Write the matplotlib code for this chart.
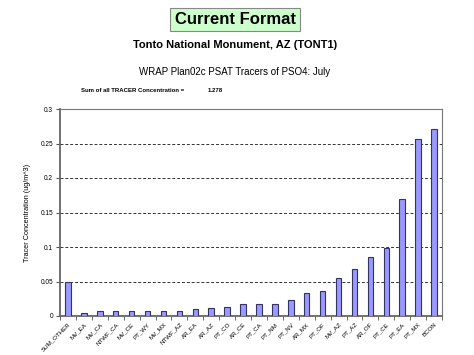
import matplotlib.pyplot as plt
import numpy as np

# tracer names and July concentrations (ug/m^3)
tracers = ['SUM_OTHER', 'MV_EA', 'MV_CA', 'NTWF_CA', 'MV_CE', 'PT_WY', 'MV_MX',
           'NTWF_AZ', 'AR_EA', 'AR_AZ', 'PT_CO', 'AR_CE', 'PT_CA', 'PT_NM',
           'PT_NV', 'AR_MX', 'PT_OF', 'MV_AZ', 'PT_AZ', 'AR_OF', 'PT_CE',
           'PT_EA', 'PT_MX', 'BCON']
conc = [0.049, 0.005, 0.0068, 0.0073, 0.0073, 0.007, 0.007, 0.007, 0.0102,
        0.011, 0.0126, 0.017, 0.017, 0.018, 0.0227, 0.034, 0.036, 0.0546,
        0.068, 0.085, 0.0987, 0.169, 0.256, 0.271]
total_label = '1.278'
yticks = [0, 0.05, 0.1, 0.15, 0.2, 0.25, 0.3]
ytick_labels = ['0', '0.05', '0.1', '0.15', '0.2', '0.25', '0.3']

plt.rcParams['font.family'] = ['Liberation Sans', 'DejaVu Sans']

fig = plt.figure(figsize=(4.74, 3.55), dpi=100)
ax = fig.add_axes([60 / 474, 1 - 316 / 355, 382 / 474, 207 / 355])

x = np.arange(len(tracers))
ax.bar(x, conc, width=0.35, color='#9999ff', edgecolor='#333366', linewidth=0.8, zorder=3)

ax.set_xlim(-0.5, len(tracers) - 0.5)
ax.set_ylim(0, 0.3)
ax.set_yticks(yticks)
ax.set_yticklabels(ytick_labels, fontsize=4.7)
ax.set_xticks(x)
ax.set_xticklabels(tracers, rotation=45, ha='right', rotation_mode='anchor', fontsize=4.4)
ax.set_xticks(np.arange(-0.5, len(tracers)), minor=True)
ax.tick_params(axis='x', which='major', length=0, pad=4)
ax.tick_params(axis='x', which='minor', length=3, direction='out', color='#555555')
ax.tick_params(axis='y', length=3, direction='out', color='#555555', pad=2)

# dashed gridlines like the Excel original
for v in yticks[1:-1]:
    ax.axhline(v, color='#333333', linestyle=(0, (3, 2)), linewidth=0.7, zorder=1)

for side in ['left', 'bottom']:
    ax.spines[side].set_color('#666666')
    ax.spines[side].set_linewidth(1.3)
for side in ['top', 'right']:
    ax.spines[side].set_color('#777777')
    ax.spines[side].set_linewidth(0.8)

ax.set_ylabel('Tracer Concentration (ug/m^3)', fontsize=5.2, labelpad=7)

fig.text(0.4958, 0.945, 'Current Format', fontsize=12, fontweight='bold', ha='center', va='center',
         bbox=dict(boxstyle='square,pad=0.25', facecolor='#ccffcc', edgecolor='#888888', linewidth=0.8))
fig.text(0.4958, 0.872, 'Tonto National Monument, AZ (TONT1)', fontsize=8, fontweight='bold',
         ha='center', va='center')
fig.text(0.4958, 0.797, 'WRAP Plan02c PSAT Tracers of PSO4: July', fontsize=7, ha='center', va='center')
fig.text(81 / 474, 0.746, 'Sum of all TRACER Concentration =', fontsize=4.3, fontweight='bold',
         ha='left', va='center')
fig.text(208 / 474, 0.746, total_label, fontsize=4.3, fontweight='bold', ha='left', va='center')

fig.savefig('out.png', dpi=100)
